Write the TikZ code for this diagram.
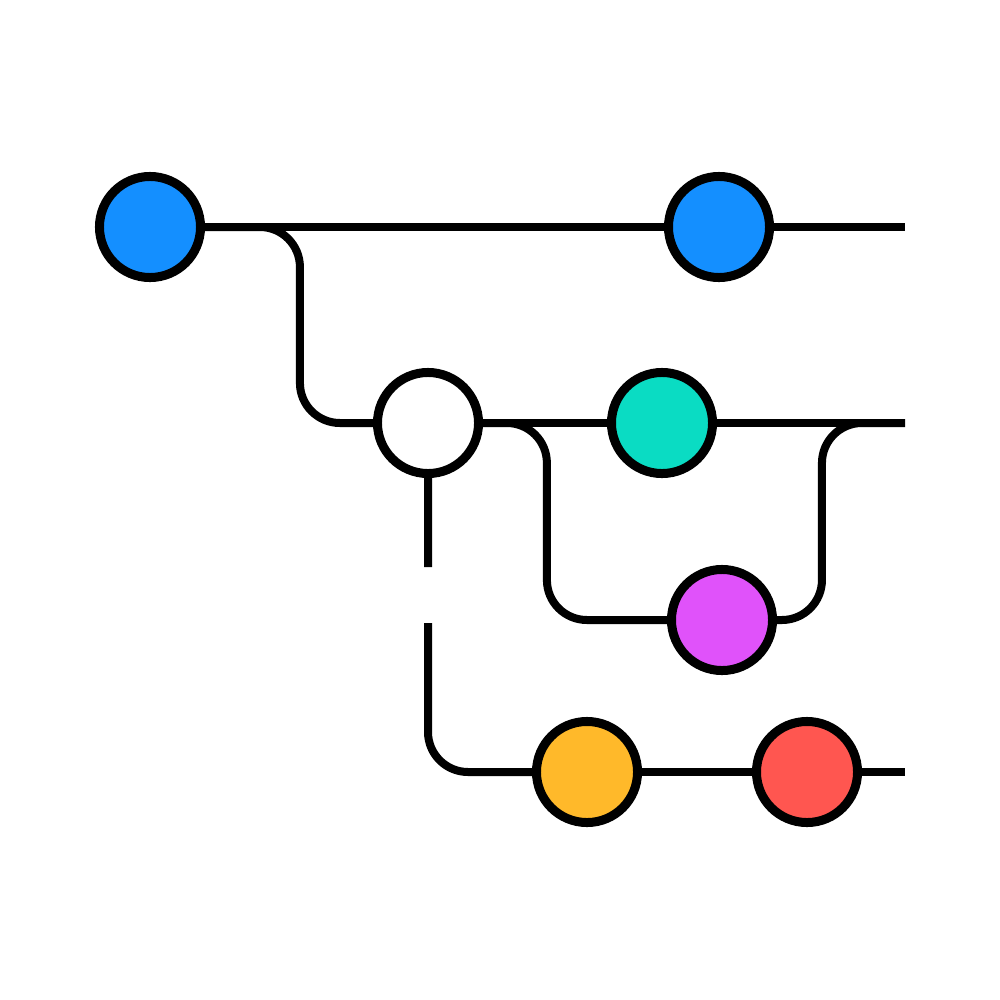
\documentclass[tikz,border=0pt]{standalone}
\usepackage{tikz}
\definecolor{commitblue}{RGB}{20,143,255}
\definecolor{committeal}{RGB}{10,220,195}
\definecolor{commitpink}{RGB}{224,82,250}
\definecolor{commitorange}{RGB}{255,185,42}
\definecolor{commitred}{RGB}{255,86,80}
\tikzset{
  commit/.style={circle, draw=black, line width=0.09cm, minimum size=1.01cm, inner sep=0pt},
  wire/.style={line width=0.08cm, line cap=butt, line join=round, rounded corners=0.4cm}
}
\begin{document}
\begin{tikzpicture}[x=0.01cm,y=-0.01cm]
\useasboundingbox (0,0) rectangle (1000,1000);
\node[commit, fill=commitblue] (main1) at (150,227) {};
\node[commit, fill=commitblue] (main2) at (719,227) {};
\node[commit, fill=white] (dev) at (428,423) {};
\node[commit, fill=committeal] (dev2) at (662,423) {};
\node[commit, fill=commitpink] (feat) at (722,620) {};
\node[commit, fill=commitorange] (fix1) at (587,772) {};
\node[commit, fill=commitred] (fix2) at (807,772) {};
\coordinate (mainend) at (905,227);
\coordinate (devend) at (905,423);
\coordinate (fixend) at (905,772);
\draw [wire] (main1) -- (main2) (main2) -- (mainend);
\draw [wire] (main1.east) -| ([xshift=-0.73cm]dev.west) -- (dev.west);
\draw [wire] (dev) -- (dev2) (dev2) -- (devend);
\draw [wire] (dev.east) -| ([xshift=-1.2cm]feat.west) -- (feat.west);
\draw [wire] (feat.east) -| ([xshift=-0.83cm]devend) -- (devend);
\draw [wire, dash pattern=on 0.89cm off 0.56cm on 6cm] (dev.south) |- (fix1.west);
\draw [wire] (fix1) -- (fix2) (fix2) -- (fixend);
\end{tikzpicture}
\end{document}
